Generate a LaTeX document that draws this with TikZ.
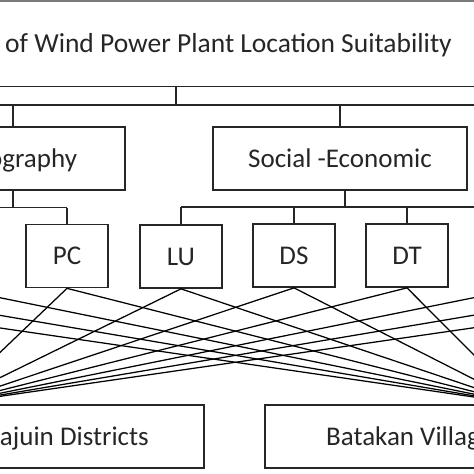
\documentclass[tikz,border=0pt]{standalone}
\usepackage{fontspec}
\setmainfont{Carlito}
\begin{document}
\begin{tikzpicture}[x=1pt,y=-1pt,
  box/.style={draw=black!85, line width=1.7pt, rectangle, inner sep=0pt,
    font=\fontsize{27}{32}\selectfont, text=black!85, text height=17.4pt, text depth=0pt},
  crit/.style={box, minimum width=82pt, minimum height=63pt},
  alt/.style={box, minimum width=516pt, minimum height=63pt},
  lbl/.style={font=\fontsize{27}{32}\selectfont, text=black!85, inner sep=0pt},
  link/.style={draw=black!85, line width=1.7pt},
  cross/.style={draw=black, line width=1.25pt}]
\useasboundingbox (0,0) rectangle (474,474);
\clip (0,0) rectangle (474,474);
% goal box (mostly outside the view)
\node[box, line width=1.3pt, minimum width=900pt, minimum height=86pt, anchor=south] (goal) at (176,87) {};
\node[lbl, font=\fontsize{27.5}{32}\selectfont, anchor=base east] (goaltxt) at (452,52) {of Wind Power Plant Location Suitability};
\fill[black!52] (0,0) rectangle (474,2.4);
% main bus
\coordinate (busL) at (-80,105);
\coordinate (busR) at (600,105);
\draw[link] (busL) -- (busR);
\draw[link] (goal.south) -- (goal.south |- busL);
% categories
\node[box, minimum width=224pt, minimum height=63pt] (topo) at (13,158.5) {Topography};
\node[box, minimum width=254pt, minimum height=63pt] (socio) at (340,158.5) {Social -Economic};
\draw[link] (topo.north |- busL) -- (topo.north);
\draw[link] (socio.north |- busL) -- (socio.north);
% criteria
\node[crit] (c1) at (-272,256) {};
\node[crit] (c2) at (-159,256) {};
\node[crit] (c3) at (-46,256) {};
\node[crit] (c4) at (67,256) {PC};
\node[crit] (c5) at (181,256.5) {LU};
\node[crit] (c6) at (294,255.5) {DS};
\node[crit] (c7) at (407,255.5) {DT};
\node[crit] (c8) at (520,256) {};
\node[crit] (c9) at (633,256) {};
\node[crit] (c10) at (746,256) {};
% sub-buses
\coordinate (tbus) at (13,207.5);
\coordinate (sbus) at (345,207);
\draw[link] (topo.south) -- (tbus);
\draw[link] (c1.north |- tbus) -- (c4.north |- tbus);
\foreach \i in {1,2,3,4} \draw[link] (c\i.north |- tbus) -- (c\i.north);
\draw[link] (sbus |- socio.south) -- (sbus);
\draw[link] (c5.north |- sbus) -- (c8.north |- sbus);
\foreach \i in {5,6,7,8} \draw[link] (c\i.north |- sbus) -- (c\i.north);
% alternatives
\node[alt] (altL) at (-54,436.5) {};
\node[alt] (altR) at (523,436.5) {};
\node[lbl, anchor=base east] (altLtxt) at (149,445) {Bajuin Districts};
\node[lbl, anchor=base west] (altRtxt) at (326,445) {Batakan Village};
% crossing connectors
\foreach \i in {1,...,10} {
  \draw[cross] (c\i.south) -- (altL.north);
  \draw[cross] (c\i.south) -- (altR.north);
}
\end{tikzpicture}
\end{document}
